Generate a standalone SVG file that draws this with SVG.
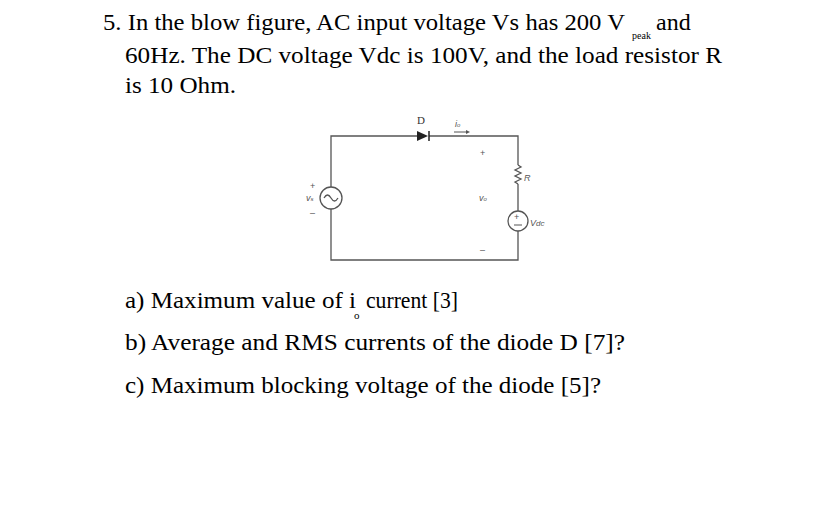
<svg xmlns="http://www.w3.org/2000/svg" width="822" height="524" viewBox="0 0 822 524">
<style>
.t{font-family:"Liberation Serif",serif;font-size:24px;fill:#000}
.s{font-family:"Liberation Sans",sans-serif;font-size:9px;fill:#555}
.w{stroke:#555;stroke-width:1.3;fill:none}
</style>
<rect width="822" height="524" fill="#fff"/>
<g id="text">
<text class="t" x="103" y="30" textLength="522" lengthAdjust="spacingAndGlyphs">5. In the blow figure, AC input voltage Vs has 200 V</text>
<text class="t" x="632" y="39" style="font-size:10px">peak</text>
<text class="t" x="656" y="30">and</text>
<text class="t" x="125" y="63" textLength="597" lengthAdjust="spacingAndGlyphs">60Hz. The DC voltage Vdc is 100V, and the load resistor R</text>
<text class="t" x="125" y="93" textLength="111" lengthAdjust="spacingAndGlyphs">is 10 Ohm.</text>
<text class="t" x="125" y="308" textLength="231" lengthAdjust="spacingAndGlyphs">a) Maximum value of i</text>
<text class="t" x="366" y="308" textLength="92" lengthAdjust="spacingAndGlyphs">current [3]</text>
<text class="t" x="354" y="319" style="font-size:11px">o</text>
<text class="t" x="125" y="350" textLength="500" lengthAdjust="spacingAndGlyphs">b) Average and RMS currents of the diode D [7]?</text>
<text class="t" x="125" y="393" textLength="476" lengthAdjust="spacingAndGlyphs">c) Maximum blocking voltage of the diode [5]?</text>
</g>
<g id="connectors">
<path class="w" d="M331 187V136H417M429 136H518V165M518 184V211M518 231V260H331V209"/>
<path class="w" d="M518 165l3 2-6 3 6 3-6 3 6 3-6 3 3 2"/>
<path d="M454 132H468" stroke="#555" stroke-width="1"/>
<path d="M470 132l-4-2v4z" fill="#555"/>
</g>
<g id="diode">
<path d="M417 131v10l11-5z" fill="#222"/>
<path d="M429 131v10" stroke="#222" stroke-width="1.5"/>
<text x="417" y="124" style="font-family:'Liberation Serif',serif;font-size:11px;fill:#333">D</text>
<text class="s" x="455" y="127" font-style="italic">i<tspan font-size="6">o</tspan></text>
</g>
<g id="vs">
<circle cx="331" cy="198" r="11" class="w"/>
<path class="w" d="M324 198q3.5-6 7 0t7 0"/>
<text class="s" x="310" y="189">+</text>
<text class="s" x="306" y="201" font-style="italic">v<tspan font-size="6">s</tspan></text>
<text class="s" x="310" y="216">–</text>
</g>
<g id="vo">
<text class="s" x="480" y="156">+</text>
<text class="s" x="479" y="201" font-style="italic">v<tspan font-size="6">o</tspan></text>
<text class="s" x="480" y="253">–</text>
</g>
<g id="R"><text class="s" x="524" y="181" font-style="italic" font-size="11">R</text></g>
<g id="vdc">
<circle cx="518" cy="221" r="10" class="w"/>
<text class="s" x="514" y="220">+</text>
<path d="M514 225h8" stroke="#555"/>
<text class="s" x="530" y="226" font-style="italic" font-size="11">V<tspan font-size="8">dc</tspan></text>
</g>
</svg>
